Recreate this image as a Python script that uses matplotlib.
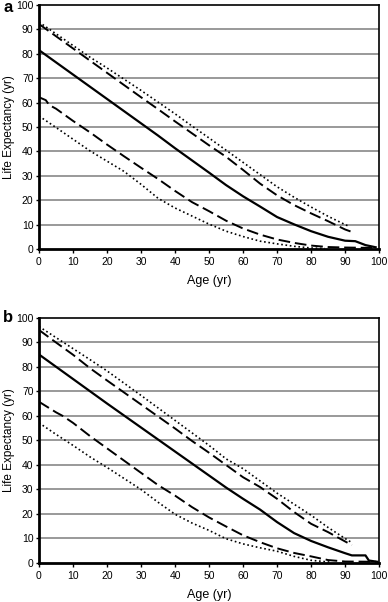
import matplotlib
matplotlib.use("Agg")
import matplotlib.pyplot as plt

plt.rcParams['font.family'] = ['Liberation Sans', 'DejaVu Sans']

# ---- panel a ----
a_solid_age = [0, 5, 10, 15, 20, 25, 30, 35, 40, 45, 50, 55, 60, 65, 70, 75, 80, 85, 90, 93, 96, 99]
a_solid = [81.5, 76.5, 71.5, 66.5, 61.5, 56.5, 51.5, 46.5, 41.3, 36.3, 31.3, 26.2, 21.6, 17.4, 13.1, 10.1, 7.3, 5.0, 3.4, 3.2, 1.6, 0.7]

a_hi_dash_age = [0, 5, 10, 15, 20, 25, 30, 35, 40, 45, 50, 55, 60, 65, 70, 75, 80, 85, 90, 92]
a_hi_dash = [92.2, 87.2, 82.2, 77.2, 72.2, 67.2, 62.2, 57.3, 52.3, 47.4, 42.5, 37.8, 32.4, 26.8, 22.0, 18.0, 14.6, 11.4, 8.0, 7.0]

a_hi_dot_age = [0, 5, 10, 15, 20, 25, 30, 35, 40, 45, 50, 55, 60, 65, 70, 75, 80, 85, 90, 91]
a_hi_dot = [93.0, 88.2, 83.4, 78.6, 74.2, 69.6, 65.0, 60.2, 55.4, 50.4, 45.5, 40.5, 35.5, 30.5, 25.5, 21.2, 17.2, 13.4, 10.0, 9.4]

a_lo_dash_age = [0, 2, 3, 5, 10, 15, 20, 25, 30, 35, 40, 45, 50, 55, 60, 65, 70, 75, 80, 85, 90, 95, 99]
a_lo_dash = [62.2, 61.0, 59.0, 57.5, 52.5, 47.8, 42.8, 38.0, 33.3, 28.7, 23.8, 19.2, 15.5, 11.6, 8.4, 5.9, 3.9, 2.5, 1.4, 0.8, 0.6, 0.5, 0.5]

a_lo_dot_age = [0, 5, 10, 15, 20, 25, 30, 35, 40, 45, 50, 55, 60, 65, 70, 75, 80, 84]
a_lo_dot = [54.5, 49.8, 45.0, 40.2, 36.0, 31.8, 26.5, 20.8, 16.8, 13.5, 10.2, 7.3, 5.1, 3.2, 2.1, 1.1, 0.4, 0.2]

# ---- panel b ----
b_solid_age = [0, 5, 10, 15, 20, 25, 30, 35, 40, 45, 50, 55, 60, 65, 70, 75, 80, 85, 90, 92, 96, 97, 99.5]
b_solid = [85.1, 80.1, 75.1, 70.1, 65.1, 60.2, 55.3, 50.4, 45.5, 40.6, 35.7, 30.8, 26.2, 21.8, 16.7, 12.2, 9.0, 6.4, 4.0, 3.1, 3.1, 1.0, 0.5]

b_hi_dash_age = [0, 5, 10, 15, 20, 25, 30, 35, 40, 45, 50, 55, 60, 65, 70, 75, 80, 85, 90, 92]
b_hi_dash = [95.1, 90.0, 85.0, 79.5, 74.5, 69.6, 64.7, 59.8, 54.9, 49.8, 45.0, 40.0, 35.0, 31.0, 26.2, 20.8, 16.0, 12.6, 8.8, 7.3]

b_hi_dot_age = [0, 5, 10, 15, 20, 25, 30, 35, 40, 45, 50, 55, 60, 65, 70, 75, 80, 85, 90, 92]
b_hi_dot = [96.5, 92.0, 87.5, 83.0, 78.4, 73.4, 68.4, 63.3, 58.2, 53.1, 48.0, 42.5, 38.5, 33.5, 28.5, 24.0, 19.5, 14.5, 10.0, 8.3]

b_lo_dash_age = [0, 5, 7, 10, 15, 20, 25, 30, 35, 40, 45, 50, 55, 60, 65, 70, 75, 80, 85, 90, 99]
b_lo_dash = [65.8, 61.5, 60.0, 57.2, 51.8, 46.8, 41.8, 36.8, 31.8, 27.5, 22.8, 18.6, 14.9, 11.3, 8.5, 6.0, 4.1, 2.7, 1.2, 0.6, 0.5]

b_lo_dot_age = [0, 5, 10, 15, 20, 25, 30, 35, 40, 45, 50, 55, 60, 65, 70, 75, 80, 86]
b_lo_dot = [57.2, 52.5, 48.0, 43.3, 39.0, 34.5, 30.0, 24.8, 19.9, 16.3, 13.3, 9.9, 7.8, 6.2, 4.8, 2.7, 1.1, 0.3]

panels = [
    ("a", [(a_hi_dot_age, a_hi_dot, "dot"), (a_hi_dash_age, a_hi_dash, "dash"),
           (a_solid_age, a_solid, "solid"),
           (a_lo_dash_age, a_lo_dash, "dash"), (a_lo_dot_age, a_lo_dot, "dot")]),
    ("b", [(b_hi_dot_age, b_hi_dot, "dot"), (b_hi_dash_age, b_hi_dash, "dash"),
           (b_solid_age, b_solid, "solid"),
           (b_lo_dash_age, b_lo_dash, "dash"), (b_lo_dot_age, b_lo_dot, "dot")]),
]

fig = plt.figure(figsize=(3.88, 6.02), dpi=100)
boxes = [[0.1005, 0.5864, 0.8765, 0.4053], [0.1005, 0.0648, 0.8765, 0.4070]]
letter_y = [1 - 8 / 602, 1 - 318 / 602]

for (letter, lines), box, ly in zip(panels, boxes, letter_y):
    ax = fig.add_axes(box)
    for y in range(10, 100, 10):
        ax.axhline(y, color="#999999", lw=1.4, zorder=1)
    for x, y, st in lines:
        if st == "solid":
            ax.plot(x, y, color="black", lw=1.6, zorder=3)
        elif st == "dash":
            ax.plot(x, y, color="black", lw=1.4, dashes=(6, 2.5), zorder=3)
        else:
            ax.plot(x, y, color="black", lw=1.2, dashes=(1, 1.6), zorder=3)
    ax.set_xlim(0, 100)
    ax.set_ylim(0, 100)
    ax.set_xticks(range(0, 101, 10))
    ax.set_yticks(range(0, 101, 10))
    ax.tick_params(axis="x", labelsize=7.5, length=3, width=1, pad=3)
    ax.tick_params(axis="y", labelsize=7.5, length=2, width=1, pad=2)
    for s in ["left", "bottom"]:
        ax.spines[s].set_linewidth(2)
    for s in ["top", "right"]:
        ax.spines[s].set_linewidth(1.2)
    ax.set_ylabel("Life Expectancy (yr)", fontsize=8.5)
    ax.yaxis.set_label_coords(-0.072, 0.5)
    ax.set_xlabel("Age (yr)", fontsize=9)
    ax.xaxis.set_label_coords(0.5, -0.105)
    fig.text(3 / 388, ly, letter, fontsize=12, fontweight="bold",
             ha="left", va="center")

fig.savefig("out.png", dpi=100)
